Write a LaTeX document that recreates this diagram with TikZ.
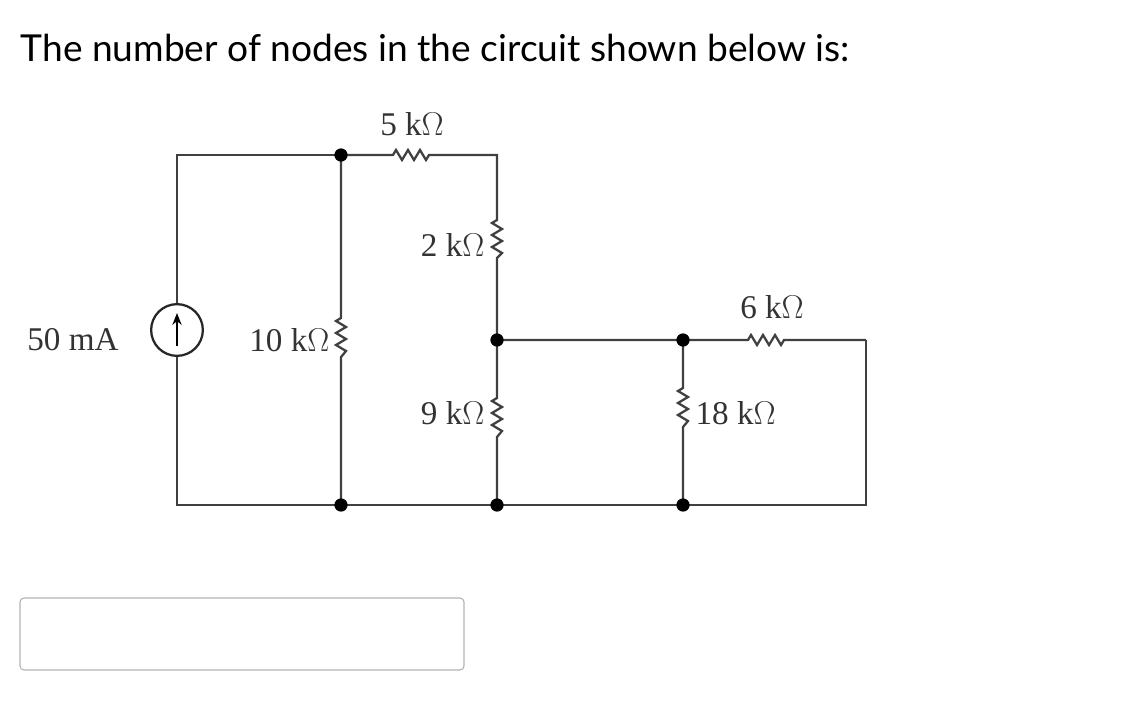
\documentclass[tikz,border=0pt]{standalone}
\usepackage{fontspec}
\setmainfont{Liberation Serif}
\newfontfamily\lato{Lato}
\usetikzlibrary{arrows.meta}
\begin{document}
\begin{tikzpicture}[x=0.0265cm,y=-0.0265cm,
  w/.style={draw=black!75,line width=1.7pt},
  dot/.style={circle,fill=black,inner sep=0pt,minimum size=10pt},
  lab/.style={font=\fontsize{25}{25}\selectfont,text=black!80,inner sep=1pt}]
\useasboundingbox (0,0) rectangle (1130,714);
\node[anchor=west,font=\lato\fontsize{28}{28}\selectfont] (t) at (16,48) {The number of nodes in the circuit shown below is:};
\draw[draw=black!30,line width=0.8pt,rounded corners=3pt] (20,598) rectangle (464,670);
\coordinate (TL) at (177,155); \coordinate (TR) at (497,155);
\coordinate (BL) at (177,505); \coordinate (BR) at (866,505);
\coordinate (RR) at (866,340);
\node[circle,draw=black!85,line width=1.7pt,minimum size=39pt] (src) at (177,330) {};
\draw[w] (src.north) -- (TL) -- (341,155);
\draw[w] (src.south) -- (BL) -- (BR) -- (RR);
\draw[-{Stealth[length=9pt,width=7pt]},line width=1.5pt] (177,346) -- (177,313);
\draw[w] (341,155) -- (393,155) -- (396,150) -- (402,160) -- (408,150) -- (414,160) -- (420,150) -- (426,160) -- (429,155) -- (TR)
 -- (497,220) -- (492,223) -- (502,229) -- (492,235) -- (502,241) -- (492,247) -- (502,253) -- (497,258) -- (497,340)
 -- (497,398) -- (492,401) -- (502,407) -- (492,413) -- (502,419) -- (492,425) -- (502,431) -- (497,437) -- (497,505);
\draw[w] (341,155) -- (341,318) -- (336,321) -- (346,327) -- (336,333) -- (346,339) -- (336,345) -- (346,351) -- (341,357) -- (341,505);
\draw[w] (497,340) -- (683,340) -- (748,340) -- (751,335) -- (757,345) -- (763,335) -- (769,345) -- (775,335) -- (781,345) -- (784,340) -- (RR);
\draw[w] (683,340) -- (683,388) -- (678,391) -- (688,397) -- (678,403) -- (688,409) -- (678,415) -- (688,421) -- (683,427) -- (683,505);
\node[dot] (n1) at (341,155) {};
\node[dot] (n2) at (497,340) {};
\node[dot] (n3) at (683,340) {};
\node[dot] (n4) at (341,505) {};
\node[dot] (n5) at (497,505) {};
\node[dot] (n6) at (683,505) {};
\node[lab] (l50) at (73,340) {50 mA};
\node[lab] (l5) at (412,124) {5 k$\Omega$};
\node[lab,anchor=east] (l2) at (486,245) {2 k$\Omega$};
\node[lab,anchor=east] (l10) at (331,340) {10 k$\Omega$};
\node[lab,anchor=east] (l9) at (486,413) {9 k$\Omega$};
\node[lab] (l6) at (772,307) {6 k$\Omega$};
\node[lab,anchor=west] (l18) at (694,413) {18 k$\Omega$};
\end{tikzpicture}
\end{document}
